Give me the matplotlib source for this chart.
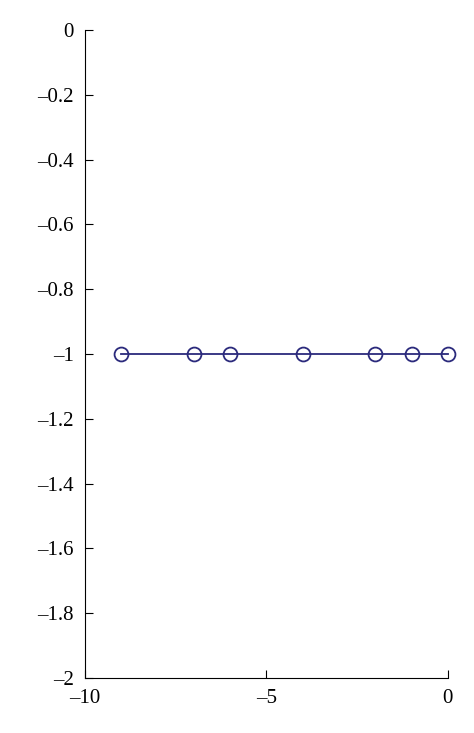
import matplotlib
matplotlib.use("Agg")
import matplotlib.pyplot as plt

# data
x_vals = [-9, -7, -6, -4, -2, -1, 0]
y_vals = [-1, -1, -1, -1, -1, -1, -1]
x_ticks = [-10, -5, 0]
y_ticks = [0, -0.2, -0.4, -0.6, -0.8, -1, -1.2, -1.4, -1.6, -1.8, -2]

plt.rcParams["font.family"] = ["Liberation Serif", "DejaVu Serif"]
fig = plt.figure(figsize=(4.74, 7.33), dpi=100)
ax = fig.add_axes([0.179, 0.075, 0.766, 0.884])

ax.plot(x_vals, y_vals, color="#2b2a7c", linewidth=1.3, marker="o",
        markersize=10, markerfacecolor="none", markeredgewidth=1.3, clip_on=False)

ax.set_xlim(-10, 0)
ax.set_ylim(-2, 0)
ax.set_xticks(x_ticks)
ax.set_yticks(y_ticks)
ax.set_xticklabels([f"{v:g}".replace("-", "\u2013") for v in x_ticks])
ax.set_yticklabels([f"{v:g}".replace("-", "\u2013") for v in y_ticks])
for s in ("top", "right"):
    ax.spines[s].set_visible(False)
ax.tick_params(direction="in", length=6, labelsize=15, pad=8)

fig.savefig("out.png", dpi=100)
